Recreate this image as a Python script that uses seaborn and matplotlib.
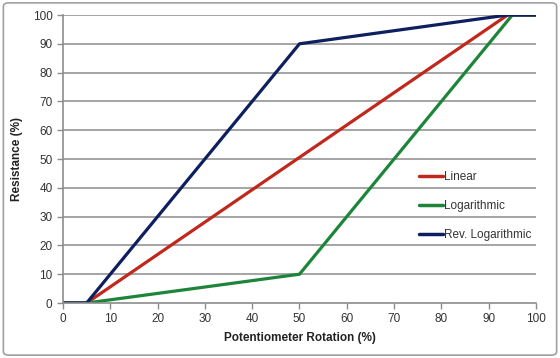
import pandas as pd
import matplotlib.pyplot as plt
import seaborn as sns
from matplotlib.patches import FancyBboxPatch

# data
series_names = ["Linear", "Logarithmic", "Rev. Logarithmic"]
x_linear = [0, 5, 94, 100]
y_linear = [0, 0, 100, 100]
x_log = [0, 5, 50, 95, 100]
y_log = [0, 0, 10, 100, 100]
x_revlog = [0, 5, 50, 94, 100]
y_revlog = [0, 0, 90, 100, 100]
x_ticks = list(range(0, 101, 10))
y_ticks = list(range(0, 101, 10))

df = pd.concat([
    pd.DataFrame({"x": x_linear, "y": y_linear, "curve": series_names[0]}),
    pd.DataFrame({"x": x_log, "y": y_log, "curve": series_names[1]}),
    pd.DataFrame({"x": x_revlog, "y": y_revlog, "curve": series_names[2]}),
], ignore_index=True)

sns.set_theme(style="white")
plt.rcParams["font.family"] = ["Liberation Sans", "DejaVu Sans"]

cores = {"Linear": "#C1281B", "Logarithmic": "#1D8539", "Rev. Logarithmic": "#0D1F5E"}

fig = plt.figure(figsize=(5.6, 3.58), dpi=100)
ax = fig.add_axes([0.1125, 0.1536, 0.8446, 0.8045])

# linhas de grade
for v in y_ticks[1:]:
    ax.axhline(v, color="#8c8c8c", lw=1.1, zorder=0)

sns.lineplot(data=df, x="x", y="y", hue="curve", palette=cores, sort=False,
             estimator=None, lw=2.3, ax=ax, legend=False)

ax.set_xlim(0, 100)
ax.set_ylim(0, 100)
ax.set_xticks(x_ticks)
ax.set_yticks(y_ticks)
ax.tick_params(axis="both", labelsize=8.5, labelcolor="#333333", color="#8c8c8c",
               length=4, width=1, direction="out", bottom=True, left=True)

for s in ["top", "right"]:
    ax.spines[s].set_visible(False)
for s in ["left", "bottom"]:
    ax.spines[s].set_color("#8c8c8c")
    ax.spines[s].set_linewidth(1.2)

ax.set_xlabel("Potentiometer Rotation (%)", fontsize=8.5, fontweight="bold", color="#222222", labelpad=5)
ax.set_ylabel("Resistance (%)", fontsize=8.5, fontweight="bold", color="#222222", labelpad=7)

handles = [plt.Line2D([], [], color=cores[n], lw=2.5) for n in series_names]
leg = ax.legend(handles, series_names, loc="center left", bbox_to_anchor=(0.73, 0.337),
                frameon=False, fontsize=8.5, handlelength=2.0, handletextpad=0.1,
                labelspacing=1.45)
for t in leg.get_texts():
    t.set_color("#333333")

# borda externa
border = FancyBboxPatch((0.006, 0.008), 0.988, 0.984, boxstyle="round,pad=0,rounding_size=0.01",
                        transform=fig.transFigure, fill=False, edgecolor="#a0a0a0", lw=1.2)
fig.patches.append(border)

plt.savefig("out.png", dpi=100)
plt.close()
